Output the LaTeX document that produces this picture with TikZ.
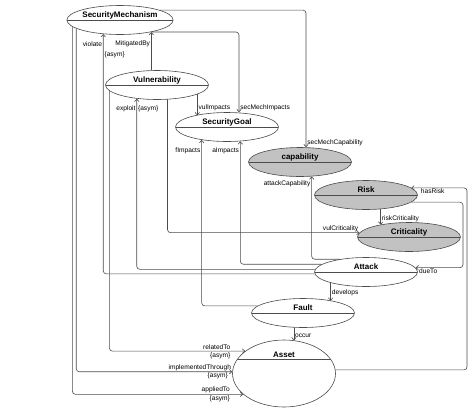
\documentclass[tikz,border=0pt]{standalone}
\usepackage{fontspec}
\setmainfont{Liberation Sans}
\usetikzlibrary{arrows.meta, positioning, shapes.geometric}

\definecolor{linegray}{gray}{0.3}
\definecolor{boxgray}{gray}{0.76}

\begin{document}
\begin{tikzpicture}[
            x = 1pt, y = -1pt, % pixel like coordinates, y runs down
            > = {Straight Barb[length=2.5pt, width=4.5pt]}, % arrow head style
            on grid, % place nodes centre to centre
            semithick % line style
        ]

        \tikzstyle{cls}=[
            ellipse,
            draw = linegray,
            fill = white,
            minimum width = 103pt,
            minimum height = 29pt,
            inner sep = 0pt,
            text height = 6pt,
            text depth = 11pt,
            font = \bfseries\fontsize{8}{9}\selectfont,
            path picture = {\draw[linegray] (path picture bounding box.west) -- (path picture bounding box.east);}
        ]
        \tikzstyle{hot}=[cls, fill = boxgray]
        \tikzstyle{tallcls}=[
            cls,
            minimum height = 67pt,
            text depth = 39pt,
            path picture = {\draw[linegray] ([yshift=14.5pt]path picture bounding box.west) -- ([yshift=14.5pt]path picture bounding box.east);}
        ]
        \tikzstyle{lbl}=[font = \fontsize{6.6}{7}\selectfont, inner sep = 1pt]
        \tikzstyle{edge}=[->, draw = linegray, rounded corners = 3pt]

        \useasboundingbox (0,0) rectangle (474,413);

        \node[cls] (sm) at (120,20) {SecurityMechanism};
        \node[cls] (vul) [below right=65pt and 37pt of sm] {Vulnerability};
        \node[cls] (sg) [below right=42pt and 70pt of vul] {SecurityGoal};
        \node[hot] (cap) [below right=35pt and 73pt of sg] {capability};
        \node[hot] (risk) [below right=33pt and 66pt of cap] {Risk};
        \node[hot] (crit) [below right=42pt and 43pt of risk] {Criticality};
        \node[cls] (attack) [below left=35pt and 43pt of crit] {Attack};
        \node[cls] (fault) [below left=41pt and 63pt of attack] {Fault};
        \node[tallcls] (asset) [below left=60.5pt and 19pt of fault] {Asset};

        % outer return lanes on the right
        \coordinate (rr) at (467,0);
        \coordinate (rd) at (463,0);

        % from the mechanism
        \draw[edge] (sm.14) -| node[lbl, at end, anchor=south west] {secMechCapability} ([xshift=6pt]cap.north);
        \draw[edge] (sm.-21) -| node[lbl, at end, anchor=south west] {secMechImpacts} ([xshift=12pt]sg.north);
        \draw[edge] (sm.191) |- node[lbl, at end, anchor=south east] {implementedThrough} node[lbl, pos=0.99, anchor=north east] {\{asym\}} (asset.178);
        \draw[edge] (sm.188) |- node[lbl, pos=0.965, anchor=south east] {appliedTo} node[lbl, pos=0.965, anchor=north east] {\{asym\}} (asset.207);

        % from the vulnerability
        \draw[edge] (sm.-21 |- vul.north) -- node[lbl, pos=0.69, left] {MitigatedBy} (sm.-21);
        \draw[edge] (vul.-13) -- node[lbl, pos=0.65, right] {vulImpacts} (vul.-13 |- sg.160);
        \draw[edge] (vul.-54) |- node[lbl, at end, anchor=south east] {vulCriticality} (crit.175);
        \draw[edge] (vul.187) |- node[lbl, pos=0.95, anchor=south east] {relatedTo} node[lbl, pos=0.95, anchor=north east] {\{asym\}} (asset.150);

        % from the attack
        \draw[edge] (attack.182) -| node[lbl, pos=0.979, left] {violate} node[lbl, pos=0.956, right] {\{asym\}} (sm.220);
        \draw[edge] (attack.177) -| node[lbl, pos=0.971, left] {exploit} node[lbl, pos=0.971, right] {\{asym\}} (vul.214);
        \draw[edge] (attack.170) -| node[lbl, pos=0.959, left] {aImpacts} (sg.-47);
        \draw[edge] (attack.154) -| node[lbl, pos=0.955, left] {attackCapability} (cap.-51);
        \draw[edge] (attack.197) -- node[lbl, pos=0.57, right] {develops} (attack.197 |- fault.23);

        % from fault, risk and asset
        \draw[edge] (fault.171) -| node[lbl, pos=0.966, left] {fImpacts} (sg.207);
        \draw[edge] (fault.238) -- node[lbl, pos=0.65, right] {occur} (fault.238 |- asset.73);
        \draw[edge] (risk.-44) -- node[lbl, pos=0.59, right] {riskCriticality} (risk.-44 |- crit.157);
        \draw[edge] (risk.-9) -| (rd |- attack.5) -- node[lbl, pos=0.95, anchor=north west] {dueTo} (attack.5);
        \draw[edge] (asset.4) -| (rr |- risk.9) -- node[lbl, pos=0.85, anchor=north west] {hasRisk} (risk.9);

    \end{tikzpicture}
\end{document}
